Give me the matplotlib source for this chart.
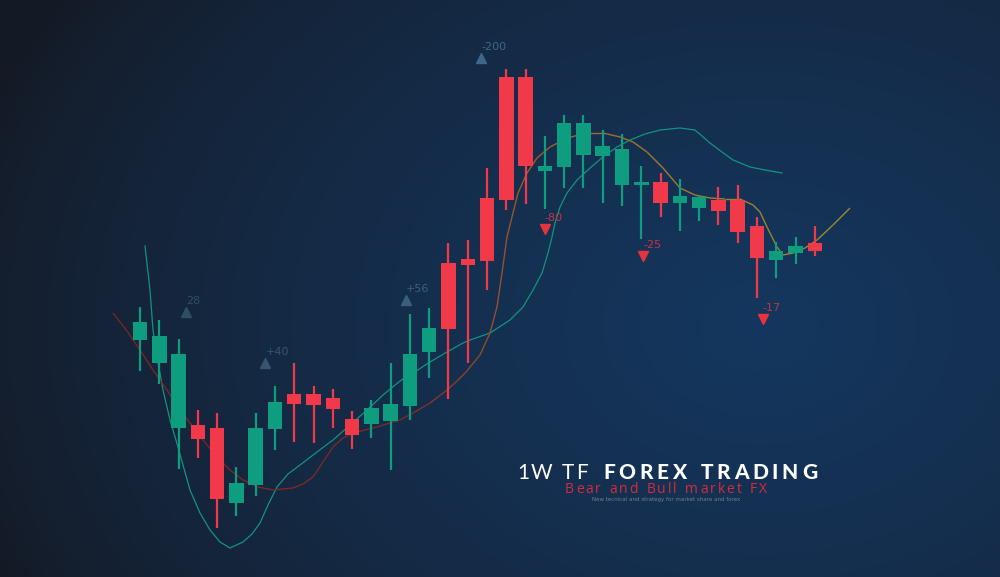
import numpy as np
import matplotlib
matplotlib.use("Agg")
import matplotlib.pyplot as plt
import matplotlib.colors as mcolors
from matplotlib.collections import LineCollection

# weekly candles (price units, higher = up)
opens = [237, 214, 149, 152, 149, 74, 92, 148, 183, 183, 179, 158, 153, 156, 171, 225,
         314, 318, 379, 500, 500, 406, 410, 422, 421, 392, 392, 395, 374, 369, 377, 377,
         351, 317, 324, 334]
closes = [255, 241, 223, 138, 78, 94, 149, 175, 173, 172, 168, 142, 169, 173, 223, 249,
          248, 312, 316, 377, 411, 411, 454, 454, 431, 428, 395, 374, 381, 380, 366, 345,
          319, 326, 331, 326]
highs = [270, 257, 238, 167, 164, 110, 164, 191, 214, 191, 188, 166, 177, 214, 263, 269,
         334, 337, 409, 508, 508, 441, 462, 462, 447, 443, 411, 404, 398, 381, 390, 392,
         360, 335, 340, 351]
lows = [206, 193, 108, 119, 49, 61, 81, 127, 135, 134, 149, 128, 139, 107, 157, 199,
        178, 214, 287, 367, 373, 368, 389, 389, 374, 371, 338, 360, 346, 356, 352, 334,
        279, 299, 313, 321]

# slow moving average (teal)
ma_slow_x = [145, 150, 153, 158, 163, 170, 178, 190, 200, 210, 220, 230, 243, 252, 260,
             268, 277, 288, 300, 317, 333, 350, 367, 383, 400, 413, 430, 447, 463, 470,
             490, 510, 523, 533, 542, 548, 552, 555, 560, 567, 577, 590, 603, 617, 630,
             645, 660, 680, 695, 710, 722, 733, 750, 765, 782]
ma_slow_y = [331, 287, 247, 215, 187, 157, 130, 87, 64, 47, 35, 29, 35, 43, 54,
             72, 90, 103, 112, 125, 137, 152, 167, 182, 196, 204, 215, 225, 234, 237,
             244, 257, 270, 287, 304, 324, 340, 354, 370, 384, 397, 409, 420, 430, 437,
             443, 447, 449, 447, 434, 425, 417, 410, 407, 404]

# fast moving average (red -> gold)
ma_fast_x = [113, 127, 140, 153, 167, 178, 190, 203, 217, 230, 243, 258, 273, 293, 303,
             313, 323, 333, 343, 353, 365, 377, 390, 400, 413, 430, 447, 457, 466, 480,
             490, 497, 502, 507, 512, 518, 527, 537, 550, 567, 587, 603, 620, 633, 647,
             663, 680, 695, 710, 725, 740, 753, 760, 767, 772, 777, 783, 793, 805, 817,
             833, 850]
ma_fast_y = [264, 246, 227, 207, 187, 170, 154, 137, 120, 107, 97, 90, 87, 89, 93,
             100, 115, 130, 139, 144, 147, 150, 154, 157, 164, 174, 187, 196, 205, 222,
             244, 270, 304, 340, 360, 384, 404, 419, 430, 439, 444, 444, 440, 435, 425,
             409, 389, 382, 379, 378, 378, 372, 365, 350, 340, 330, 322, 324, 329, 337,
             352, 369]

# signal markers (position in candle index units)
up_pos = [2.4, 6.5, 13.8, 17.7]
up_price = [265, 214, 277, 519]
up_labels = ["28", "+40", "+56", "-200"]
down_pos = [21.0, 26.1, 32.3]
down_price = [348, 321, 258]
down_labels = ["-80", "-25", "-17"]

GREEN = "#0f9d7f"
RED = "#f2394a"

fig = plt.figure(figsize=(10, 5.77), dpi=100)
ax = fig.add_axes([0, 0, 1, 1])
ax.set_xlim(0, 1000)
ax.set_ylim(0, 577)
ax.axis("off")

# background: dark left, blue glow right of centre
gx, gy = np.meshgrid(np.linspace(0, 1000, 400), np.linspace(0, 577, 230))
d = np.sqrt(((gx - 760) / 820) ** 2 + ((gy - 250) / 620) ** 2)
f = np.clip(1 - d, 0, 1) ** 0.7
dark = np.array(mcolors.to_rgb("#141a25"))
blue = np.array(mcolors.to_rgb("#14375f"))
bg = dark + (blue - dark) * f[..., None]
ax.imshow(bg, extent=[0, 1000, 0, 577], origin="lower", aspect="auto", zorder=0)

# candles
step = 19.28
x = 140 + step * np.arange(len(opens))
opens = np.array(opens); closes = np.array(closes)
colors = [GREEN if c >= o else RED for o, c in zip(opens, closes)]
ax.vlines(x, lows, highs, colors=colors, linewidth=1.6, zorder=3)
ax.bar(x, np.maximum(np.abs(closes - opens), 3), bottom=np.minimum(opens, closes),
       width=14.5, color=colors, zorder=4)

# moving averages
ax.plot(ma_slow_x, ma_slow_y, color="#12937f", linewidth=0.9, zorder=2)

pts = np.column_stack([ma_fast_x, ma_fast_y])
segs = np.stack([pts[:-1], pts[1:]], axis=1)
cmap = mcolors.LinearSegmentedColormap.from_list(
    "fast", [(0, "#7a2424"), (0.4, "#7d2a26"), (0.55, "#9a5a2a"), (0.75, "#a3782e"), (1, "#968c30")])
mid = (pts[:-1, 0] + pts[1:, 0]) / 2
seg_cols = cmap((mid - 113) / (850 - 113))
ax.add_collection(LineCollection(segs, colors=seg_cols, linewidth=1.0, zorder=2))

# markers
up_cols = ["#2f4f5e", "#365670", "#3a6080", "#3e6688"]
for pos, p, lab, c in zip(up_pos, up_price, up_labels, up_cols):
    px = 140 + step * pos
    ax.plot(px, p, marker="^", color=c, markersize=7, zorder=5)
    ax.text(px, p + 11, lab, color=c, fontsize=8, ha="left", va="center", zorder=5)
for pos, p, lab in zip(down_pos, down_price, down_labels):
    px = 140 + step * pos
    ax.plot(px, p, marker="v", color="#e8333f", markersize=7, zorder=5)
    ax.text(px, p + 11, lab, color="#c8323f", fontsize=8, ha="left", va="center", zorder=5)


def fit_text(s, x0, x1, y, **kw):
    # spread characters so the string spans x0..x1 (letter-spaced look)
    r = fig.canvas.get_renderer()
    arts, widths = [], []
    for ch in s:
        t = ax.text(0, y, ch if ch != " " else "x", ha="left", va="baseline", **kw)
        w = t.get_window_extent(renderer=r).width
        if ch == " ":
            t.set_text(" ")
            w *= 0.6
        arts.append(t)
        widths.append(w)
    gap = (x1 - x0 - sum(widths)) / (len(s) - 1)
    pos = x0
    for t, w in zip(arts, widths):
        t.set_x(pos)
        pos += w + gap


fit_text("1W TF", 517, 588, 98, color="white", fontsize=15, family="Lato", weight="normal")
fit_text("FOREX TRADING", 603, 817, 98, color="white", fontsize=15, family="Lato", weight="black")
fit_text("Bear and Bull market FX", 565, 767, 84, color="#d62b3c", fontsize=10, family="Open Sans")
ax.text(666, 77, "New tecnical and strategy for market share and forex", color="#6f7d8e",
        fontsize=4, ha="center", va="center")

fig.savefig("out.png", dpi=100)
